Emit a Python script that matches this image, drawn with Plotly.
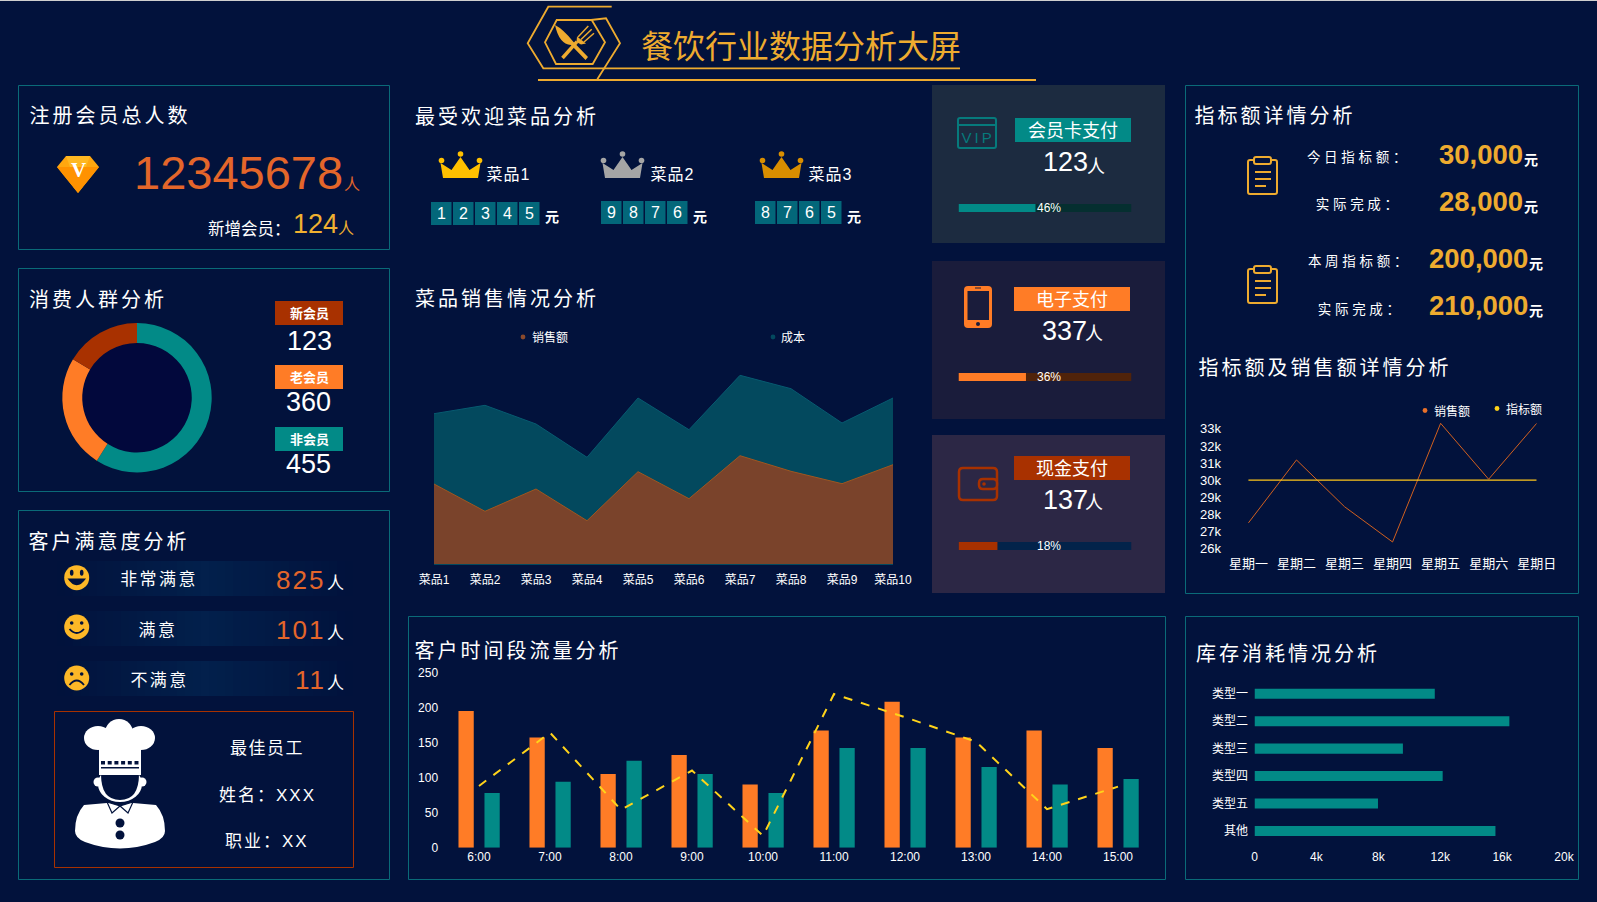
import json
import plotly.graph_objects as go

W, H = 1597, 902

BG = "#02123c"
BORDER = "#0a6a78"
TEAL = "#028a87"
ORANGE = "#ff7c26"
RUST = "#a83100"
GOLD = "#eeab2f"
YELLOW = "#ffd31a"
NUM_ORANGE = "#e4662a"
TILE = "#03677a"
FONT = "Liberation Sans, Noto Sans CJK SC, sans-serif"

# data
donut_labels = ["非会员", "老会员", "新会员"]
donut_shares = [59.1, 24.6, 16.4]
member_labels = ["新会员", "老会员", "非会员"]
member_counts = ["123", "360", "455"]

dishes = ["菜品1", "菜品2", "菜品3", "菜品4", "菜品5", "菜品6", "菜品7", "菜品8", "菜品9", "菜品10"]
dish_sales = [800, 527, 750, 433, 923, 653, 1083, 927, 803, 993]
dish_cost = [1503, 1587, 1400, 1067, 1660, 1343, 1887, 1753, 1410, 1660]

hours = ["6:00", "7:00", "8:00", "9:00", "10:00", "11:00", "12:00", "13:00", "14:00", "15:00"]
flow_a = [195, 157, 105, 132, 90, 167, 208, 157, 167, 142]
flow_b = [78, 94, 124, 105, 78, 142, 142, 115, 90, 98]
flow_line = [88, 164, 54, 110, 17, 219, 186, 151, 55, 87]

weekdays = ["星期一", "星期二", "星期三", "星期四", "星期五", "星期六", "星期日"]
week_sales = [27490, 31180, 28440, 26370, 33330, 30050, 33330]
week_target = [30000, 30000, 30000, 30000, 30000, 30000, 30000]

stock_types = ["类型一", "类型二", "类型三", "类型四", "类型五", "其他"]
stock_used = [11650, 16470, 9590, 12160, 7980, 15570]

pay_fill = [44.5, 39, 22.5]
pay_pct = ["46%", "36%", "18%"]
pay_names = ["会员卡支付", "电子支付", "现金支付"]
pay_people = ["123", "337", "137"]

fig = go.Figure()
shapes = []
notes = []
axes = {}
n_axes = 1


def new_axes(x0, y0, x1, y1):
    # adds a pair of axes covering a pixel box, returns their trace names
    global n_axes
    n_axes += 1
    xa, ya = f"x{n_axes}", f"y{n_axes}"
    axes[f"xaxis{n_axes}"] = dict(domain=[x0 / W, x1 / W], anchor=ya, visible=False, fixedrange=True)
    axes[f"yaxis{n_axes}"] = dict(domain=[1 - y1 / H, 1 - y0 / H], anchor=xa, visible=False, fixedrange=True)
    return xa, ya, f"xaxis{n_axes}", f"yaxis{n_axes}"


def text(x, y, s, size, color="#ffffff", bold=False, family=FONT):
    if bold:
        s = f"<b>{s}</b>"
    notes.append(dict(x=x, y=y, xref="x", yref="y", text=s, showarrow=False, xanchor="center",
                      yanchor="middle", borderpad=0, font=dict(size=size, color=color, family=family)))


def rect(x0, y0, x1, y1, fill=None, line=None, width=1, layer="above"):
    shapes.append(dict(type="rect", xref="x", yref="y", x0=x0, y0=y0, x1=x1, y1=y1, layer=layer,
                       fillcolor=fill or "rgba(0,0,0,0)",
                       line=dict(color=line or "rgba(0,0,0,0)", width=width if line else 0)))


def circle(cx, cy, r, fill, ry=None, layer="above"):
    ry = ry or r
    shapes.append(dict(type="circle", xref="x", yref="y", x0=cx - r, y0=cy - ry, x1=cx + r, y1=cy + ry, layer=layer,
                       fillcolor=fill, line=dict(width=0)))


def path(d, fill=None, line=None, width=1):
    shapes.append(dict(type="path", xref="x", yref="y", path=d,
                       fillcolor=fill or "rgba(0,0,0,0)",
                       line=dict(color=line or "rgba(0,0,0,0)", width=width if line else 0)))


def poly(pts, closed=True):
    d = "M " + " L ".join(f"{x} {y}" for x, y in pts)
    return d + " Z" if closed else d


def round_box(x0, y0, x1, y1, r):
    return (f"M {x0 + r} {y0} L {x1 - r} {y0} Q {x1} {y0} {x1} {y0 + r} L {x1} {y1 - r} Q {x1} {y1} {x1 - r} {y1} "
            f"L {x0 + r} {y1} Q {x0} {y1} {x0} {y1 - r} L {x0} {y0 + r} Q {x0} {y0} {x0 + r} {y0} Z")


# background bits
rect(0, 0, W, 1, fill="#cfcfcf")
for box in [(18.5, 85.5, 389.5, 249.5), (18.5, 268.5, 389.5, 491.5), (18.5, 510.5, 389.5, 879.5),
            (408.5, 616.5, 1165.5, 879.5), (1185.5, 85.5, 1578.5, 593.5), (1185.5, 616.5, 1578.5, 879.5)]:
    rect(*box, line=BORDER)
rect(932, 85, 1165, 243, fill="#1c2b40", layer="below")
rect(932, 261, 1165, 419, fill="#1a1c3b", layer="below")
rect(932, 435, 1165, 593, fill="#2c2745", layer="below")

# header emblem
path(poly([(611.7, 6.7), (548.3, 6.7), (527.7, 43.3), (543.3, 68.3), (960, 68.3)], closed=False), line=GOLD, width=1.8)
path(poly([(591, 20), (606, 18.3), (620, 43.3), (597.3, 79.3)], closed=False), line=GOLD, width=1.8)
path(poly([(538, 80), (1036, 80)], closed=False), line=GOLD, width=1.8)
path(poly([(556.7, 20), (591.7, 20), (605, 42.3), (592.7, 64), (556, 64), (545, 42.3)]), line=GOLD, width=1.8)
path("M 555 25 Q 563 29 573.3 41.7 L 588 57 L 585.5 60 L 571 45 Q 559 44 555 25 Z", fill=GOLD)
path(poly([(562.5, 58), (577, 41.7)], closed=False), line=GOLD, width=3.5)
path(poly([(576.5, 42), (577, 36.5), (586, 43.5), (581, 44.5)]), fill=GOLD)
path(poly([(578, 37), (588.3, 26)], closed=False), line=GOLD, width=1.5)
path(poly([(581, 39.5), (591.7, 29.3)], closed=False), line=GOLD, width=1.5)
path(poly([(584, 42), (594, 33.3)], closed=False), line=GOLD, width=1.5)
text(800.5, 47, "餐饮行业数据分析大屏", 32, GOLD)

# section titles
text(109.5, 115.5, "注册会员总人数", 20)
text(98, 300, "消费人群分析", 20)
text(108.5, 541.5, "客户满意度分析", 20)
text(506.5, 116.5, "最受欢迎菜品分析", 20)
text(507, 299, "菜品销售情况分析", 20)
text(518, 650.5, "客户时间段流量分析", 20)
text(1274.5, 116, "指标额详情分析", 20)
text(1324.5, 368, "指标额及销售额详情分析", 20)
text(1287.5, 654, "库存消耗情况分析", 20)

# members panel
path(poly([(66, 156), (90, 156), (99, 167), (78, 193), (57, 167)]), fill="#ffa70f")
path(poly([(57, 167), (99, 167), (78, 193)]), fill="#ff9200")
path(poly([(66, 156), (90, 156), (86, 167), (70, 167)]), fill="#ffb822")
text(78, 170, "V", 21, "#ffffff", bold=True, family="Liberation Serif")
text(238, 172, "12345678", 47, NUM_ORANGE)
text(352, 184, "人", 16, NUM_ORANGE)
text(249, 228.5, "新增会员：", 16.5)
text(315, 224, "124", 27, "#f0b030")
text(346, 228, "人", 16, "#f0b030")

# consumer donut side labels
circle(137, 397.7, 55, "#02083c", layer="below")
for (y0, y1), name, color, val, vx, vy in zip(
        [(301, 325), (365, 389), (427, 451)], member_labels, [RUST, ORANGE, TEAL],
        member_counts, [309, 308, 308], [341, 402, 464]):
    rect(275, y0, 343, y1, fill=color)
    text(309, (y0 + y1) / 2, name, 13, bold=True)
    text(vx, vy, val, 27)

fig.add_trace(go.Pie(labels=donut_labels, values=donut_shares, hole=0.733, sort=False, direction="clockwise",
                     rotation=0, textinfo="none", showlegend=False,
                     marker=dict(colors=[TEAL, ORANGE, RUST], line=dict(width=0)),
                     domain=dict(x=[(137 - 74.7) / W, (137 + 74.7) / W],
                                 y=[1 - (397.7 + 74.7) / H, 1 - (397.7 - 74.7) / H])))

# satisfaction rows
for y0 in [561, 611, 661]:
    for i in range(37):
        t = (i + 0.5) / 37
        alpha = 0.85 * (1 - abs(2 * t - 1))
        rect(57 + 8 * i, y0, 57 + 8 * (i + 1), y0 + 35, fill=f"rgba(3,35,79,{alpha:.2f})", layer="below")

FACE = "#fdb827"
circle(76.7, 577.7, 12.5, FACE)
circle(71.7, 572.7, 1.8, BG, ry=3)
circle(81.7, 572.7, 1.8, BG, ry=3)
path("M 67.5 578.5 Q 76.7 592 86 578.5 Z", fill=BG)
circle(76.7, 627, 12.5, FACE)
circle(71.7, 623, 1.8, BG)
circle(81.7, 623, 1.8, BG)
path("M 69.5 629 Q 76.7 637 84 629", line=BG, width=1.8)
circle(76.7, 678, 12.5, FACE)
circle(71.7, 674, 1.8, BG)
circle(81.7, 674, 1.8, BG)
path("M 69.5 685 Q 76.7 676 84 685", line=BG, width=1.8)

text(158.7, 579.5, "非常满意", 17)
text(157.7, 630, "满意", 17)
text(159.7, 680, "不满意", 17)
text(300.7, 579.5, "825", 26, NUM_ORANGE)
text(300, 629.5, "101", 26, NUM_ORANGE)
text(310, 680, "11", 26, NUM_ORANGE)
for y in [583, 633, 683]:
    text(335.5, y, "人", 17)

# best employee card
rect(54.5, 711.5, 353.5, 867.5, line=RUST)
circle(98, 738, 14, "#ffffff", ry=12)
circle(119, 733, 14, "#ffffff")
circle(141, 738, 14, "#ffffff", ry=12)
circle(98, 782, 4.5, "#ffffff")
circle(142, 782, 4.5, "#ffffff")
circle(120, 784, 22, "#ffffff", ry=18)
path("M 101 774 L 139 774 Q 139 800 120 800 Q 101 800 101 774 Z", fill=BG)
rect(99, 743, 141, 775, fill="#ffffff")
for i in range(6):
    rect(101 + i * 6.7, 761, 105 + i * 6.7, 764.5, fill=BG)
rect(101, 767, 139, 768.5, fill=BG)
path("M 84 805 L 107 803 L 120 806 L 133 803 L 156 805 Q 165 815 165 831 Q 165 838 155 842 "
     "Q 120 855 85 842 Q 75 838 75 831 Q 75 815 84 805 Z", fill="#ffffff")
path(poly([(107, 802), (120, 806), (112, 813)]), fill="#ffffff", line=BG, width=1.2)
path(poly([(133, 802), (120, 806), (128, 813)]), fill="#ffffff", line=BG, width=1.2)
circle(120, 823, 4.5, BG)
circle(120, 835, 4.5, BG)
text(267, 748, "最佳员工", 17)
text(267, 795, "姓名：XXX", 17)
text(266.5, 841, "职业：XX", 17)

# popular dishes
crowns = [(460.5, "#ffc000"), (622.5, "#a5a5a5"), (781.5, "#d98e00")]
for cx, color in crowns:
    path(poly([(cx - 17.5, 178), (cx - 20, 163), (cx - 9, 170), (cx, 157), (cx + 9, 170), (cx + 20, 163),
               (cx + 17.5, 178)]), fill=color)
    circle(cx - 19, 160.5, 2.8, color)
    circle(cx + 19, 160.5, 2.8, color)
    circle(cx, 154, 2.8, color)
text(508, 174, "菜品1", 16)
text(672.5, 174, "菜品2", 16)
text(830.5, 174, "菜品3", 16)

tile_rows = [("12345", [431, 453, 475, 497, 519], 202, 552),
             ("9876", [601, 623, 645, 667], 201, 700),
             ("8765", [755, 777, 799, 821], 201, 854)]
for digits, lefts, top, yuan_x in tile_rows:
    for d, x in zip(digits, lefts):
        rect(x, top, x + 20.5, top + 23, fill=TILE)
        text(x + 10.2, top + 11.5, d, 16)
    text(yuan_x, 217, "元", 14, bold=True)

# payment cards
path(round_box(958, 118, 996, 148, 2), line="#067a7c", width=2)
path(poly([(958, 125), (996, 125)], closed=False), line="#067a7c", width=2)
text(977.5, 137, "VIP", 15, "#067a7c")

path(round_box(964, 286, 992, 328, 4), fill=ORANGE)
rect(967.5, 291, 989, 320, fill="#1a1c3b")
circle(978, 324, 2, "#1a1c3b")
rect(975, 287.5, 981, 288.5, fill="#1a1c3b")

path(round_box(959, 468, 997, 500, 4), line=RUST, width=2.5)
path(round_box(979, 479, 997, 489, 4), fill="#2c2745", line=RUST, width=2.5)
circle(984, 484, 1.8, RUST)

pay_rows = [(1015, 118, TEAL, 1065.5, 162, 1095.5, 167),
            (1014, 287, ORANGE, 1064, 330.5, 1094, 334),
            (1014, 456, RUST, 1065, 500, 1094, 503)]
pay_tracks = ["#052f30", "#50230a", "#03234a"]
pay_bar_y = [204, 373, 542]
for i in range(3):
    bx, by, color, nx, ny, px_, py_ = pay_rows[i]
    rect(bx, by, bx + 116, by + 24, fill=color)
    text(bx + 58, by + 12.5, pay_names[i], 18)
    text(nx, ny, pay_people[i], 27)
    text(px_, py_, "人", 18)
    xa, ya, xk, yk = new_axes(958.5, pay_bar_y[i], 1131.5, pay_bar_y[i] + 8)
    axes[xk]["range"] = [0, 100]
    axes[yk]["range"] = [-0.5, 0.5]
    fig.add_trace(go.Bar(y=[0], x=[100], orientation="h", width=1, marker=dict(color=pay_tracks[i], line=dict(width=0)),
                         xaxis=xa, yaxis=ya, showlegend=False))
    fig.add_trace(go.Bar(y=[0], x=[pay_fill[i]], orientation="h", width=1, marker=dict(color=color, line=dict(width=0)),
                         xaxis=xa, yaxis=ya, showlegend=False))
    text(1048.5, pay_bar_y[i] + 4, pay_pct[i], 12)

# target detail
for top in [158, 267]:
    path(round_box(1248, top + 2, 1277, top + 36, 2), line=GOLD, width=2)
    path(round_box(1254, top - 1, 1271, top + 6, 2), fill=BG, line=GOLD, width=2)
    for k, x1 in zip([14, 21, 28], [1271, 1271, 1266]):
        path(poly([(1255, top + k), (x1, top + k)], closed=False), line=GOLD, width=2)

text(1358.5, 157, "今日指标额：", 13.5)
text(1359, 204, "实际完成：", 13.5)
text(1359.5, 261, "本周指标额：", 13.5)
text(1361, 309, "实际完成：", 13.5)
for x, y, s in [(1481, 154, "30,000"), (1481, 201, "28,000"), (1478, 258, "200,000"), (1478, 305, "210,000")]:
    text(x, y, s, 27.5, GOLD, bold=True)
for x, y in [(1531, 160), (1531, 207), (1536, 264), (1536, 311)]:
    text(x, y, "元", 14, bold=True)

# small hand placed legends
for x, y, tx, s, color in [(523, 337, 550, "销售额", "#8a4a2c"), (773, 337, 793, "成本", "#03495e"),
                           (1425, 410.5, 1452, "销售额", "#e8702a"), (1497, 408.5, 1524, "指标额", YELLOW)]:
    circle(x, y, 2.4, color)
    text(tx, y + 0.5, s, 12)


def tick_font(size=12):
    return dict(size=size, color="#ffffff", family=FONT)


NO_TICK = "rgba(0,0,0,0)"

# dish sales area
xa, ya, xk, yk = new_axes(434, 364, 893, 564)
axes[xk].update(visible=True, range=[0, 9], tickfont=tick_font(), showgrid=False, zeroline=False,
                showline=True, linecolor="#03495e", ticks="outside", ticklen=5, tickcolor=NO_TICK)
axes[yk].update(range=[0, 2000])
fig.add_trace(go.Scatter(x=dishes, y=dish_cost, name="成本", mode="lines", fill="tozeroy", fillcolor="#03495e",
                         line=dict(color="#075a70", width=1), xaxis=xa, yaxis=ya, showlegend=False))
fig.add_trace(go.Scatter(x=dishes, y=dish_sales, name="销售额", mode="lines", fill="tozeroy", fillcolor="#7a432b",
                         line=dict(color="#a0561f", width=1), xaxis=xa, yaxis=ya, showlegend=False))

# weekly sales vs target
xa, ya, xk, yk = new_axes(1222, 420.4, 1536.7, 548.3)
axes[xk].update(visible=True, range=[-0.55, 6], tickfont=tick_font(13), showgrid=False, zeroline=False,
                showline=False, ticks="outside", ticklen=3, tickcolor=NO_TICK)
axes[yk].update(visible=True, range=[26000, 33500], dtick=1000, tickformat="~s", tickfont=tick_font(13),
                showgrid=False, zeroline=False, showline=False)
fig.add_trace(go.Scatter(x=weekdays, y=week_sales, name="销售额", mode="lines", line=dict(color="#d2601f", width=1),
                         xaxis=xa, yaxis=ya, showlegend=False))
fig.add_trace(go.Scatter(x=weekdays, y=week_target, name="指标额", mode="lines", line=dict(color="#ffc61a", width=1.2),
                         xaxis=xa, yaxis=ya, showlegend=False))

# hourly flow
xa, ya, xk, yk = new_axes(443.5, 672.3, 1153.5, 847.7)
axes[xk].update(visible=True, range=[-0.5, 9.5], tickfont=tick_font(), showgrid=False, zeroline=False,
                showline=False)
axes[yk].update(visible=True, range=[0, 250], dtick=50, tickfont=tick_font(), showgrid=False, zeroline=False,
                showline=False, ticks="outside", ticklen=2, tickcolor=NO_TICK)
fig.add_trace(go.Bar(x=hours, y=flow_a, width=0.215, offset=-0.289, marker=dict(color=ORANGE, line=dict(width=0)),
                     xaxis=xa, yaxis=ya, showlegend=False))
fig.add_trace(go.Bar(x=hours, y=flow_b, width=0.215, offset=0.077, marker=dict(color=TEAL, line=dict(width=0)),
                     xaxis=xa, yaxis=ya, showlegend=False))
fig.add_trace(go.Scatter(x=hours, y=flow_line, mode="lines", line=dict(color=YELLOW, width=2, dash="dash"),
                         xaxis=xa, yaxis=ya, showlegend=False))

# stock consumption
xa, ya, xk, yk = new_axes(1254.5, 680, 1564, 844.7)
axes[xk].update(visible=True, range=[0, 20000], dtick=4000, tickformat="~s", tickfont=tick_font(), showgrid=False,
                zeroline=False, showline=False, ticks="outside", ticklen=1, tickcolor=NO_TICK)
axes[yk].update(visible=True, range=[5.5, -0.5], tickfont=tick_font(), showgrid=False, zeroline=False, showline=False,
                ticks="outside", ticklen=3, tickcolor=NO_TICK)
fig.add_trace(go.Bar(y=stock_types, x=stock_used, orientation="h", width=0.365,
                     marker=dict(color=TEAL, line=dict(width=0)), xaxis=xa, yaxis=ya, showlegend=False))

fig.update_layout(
    width=W, height=H, autosize=False, margin=dict(l=0, r=0, t=0, b=0, pad=0, autoexpand=False),
    paper_bgcolor=BG, plot_bgcolor="rgba(0,0,0,0)", barmode="overlay", showlegend=False,
    font=dict(family=FONT, color="#ffffff"),
    xaxis=dict(domain=[0, 1], range=[0, W], visible=False, fixedrange=True),
    yaxis=dict(domain=[0, 1], range=[H, 0], visible=False, fixedrange=True),
    shapes=shapes, annotations=notes,
)
fig.update_layout(**axes)
# the overlay axes need one (empty) trace to exist
fig.add_trace(go.Scatter(x=[], y=[], xaxis="x", yaxis="y", showlegend=False))

# plotly has no letter spacing, so it goes on the svg text afterwards
spaced = {"注册会员总人数": 3, "消费人群分析": 3, "客户满意度分析": 3, "最受欢迎菜品分析": 3,
          "菜品销售情况分析": 3, "客户时间段流量分析": 3, "指标额详情分析": 3,
          "指标额及销售额详情分析": 3, "库存消耗情况分析": 3,
          "非常满意": 2.4, "满意": 2.4, "不满意": 2.4, "825": 2, "101": 2, "11": 2,
          "最佳员工": 1.5, "姓名：XXX": 2, "职业：XX": 2, "菜品1": 1, "菜品2": 1, "菜品3": 1,
          "今日指标额：": 3.7, "本周指标额：": 3.7, "实际完成：": 3.7, "VIP": 3}
post = """
document.body.style.margin = '0';
document.body.style.background = '%s';
document.body.style.overflow = 'hidden';
var spaced = %s;
document.querySelectorAll('text.annotation-text').forEach(function (t) {
  var s = spaced[t.textContent];
  if (s) { t.style.letterSpacing = s + 'px'; }
});
""" % (BG, json.dumps(spaced, ensure_ascii=False))

fig.write_html("out.html", post_script=post, config={"displayModeBar": False})
